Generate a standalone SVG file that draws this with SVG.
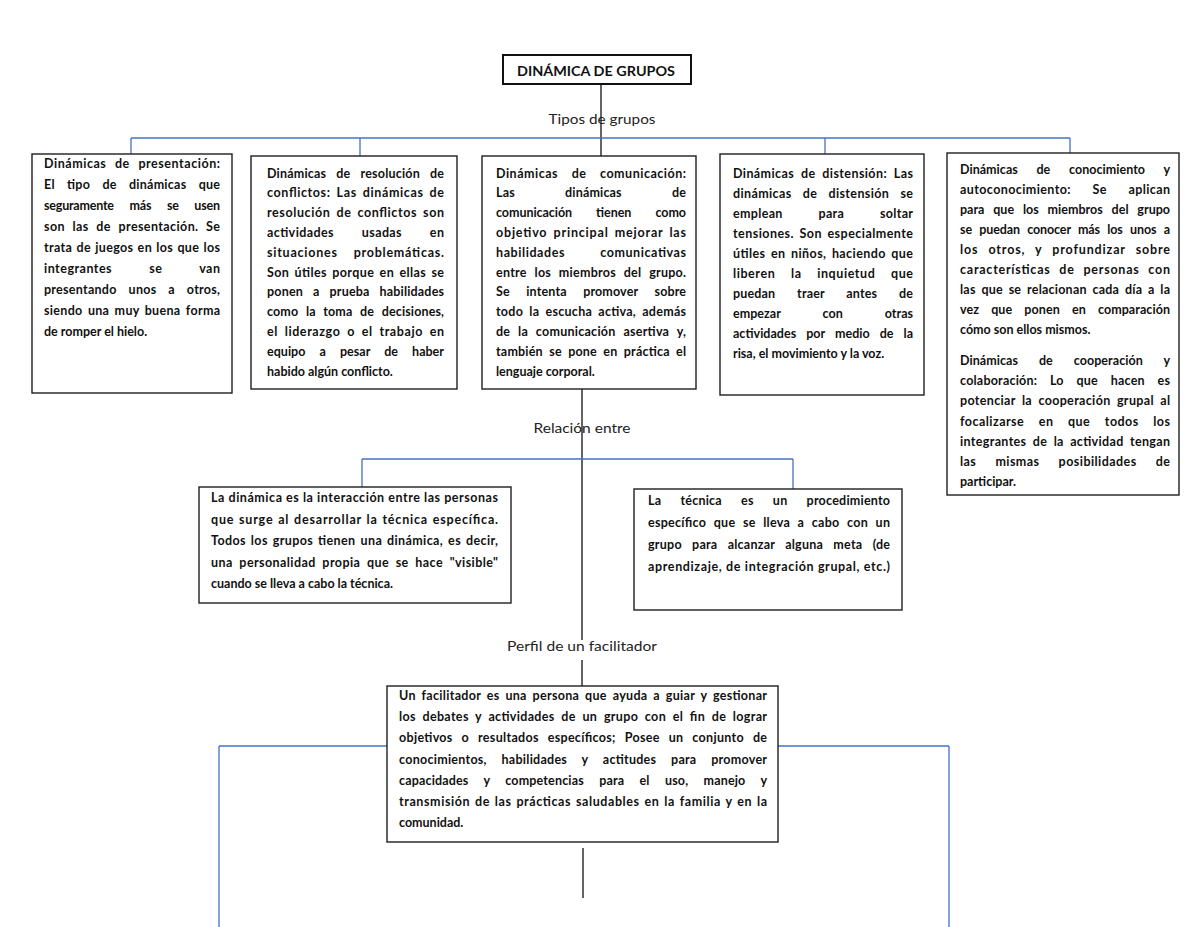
<svg xmlns="http://www.w3.org/2000/svg" width="1200" height="927" viewBox="0 0 1200 927">
<style>
.bg{fill:#ffffff}
.box{fill:#ffffff;stroke:#1e1e1e;stroke-width:1.4}
.title{fill:#ffffff;stroke:#111111;stroke-width:2}
.blue{stroke:#4472C4;stroke-width:1.3;fill:none}
.blk{stroke:#111111;stroke-width:1.3;fill:none}
.t{font-family:Lato,"Liberation Sans",sans-serif;font-weight:bold;font-size:12.5px;fill:#111111}
.tt{font-family:Lato,"Liberation Sans",sans-serif;font-weight:bold;font-size:13px;fill:#111111}
.lbl{font-family:Lato,"Liberation Sans",sans-serif;font-size:14px;fill:#222222}
.m{text-anchor:middle}
</style>
<rect class="bg" x="0" y="0" width="1200" height="927"/>

<g id="connectors">
  <line class="blk" x1="601" y1="84" x2="601" y2="156"/>
  <line class="blue" x1="131" y1="138" x2="1070" y2="138"/>
  <line class="blue" x1="131" y1="138" x2="131" y2="154"/>
  <line class="blue" x1="360" y1="138" x2="360" y2="156"/>
  <line class="blue" x1="825" y1="138" x2="825" y2="154"/>
  <line class="blue" x1="1070" y1="138" x2="1070" y2="153"/>
  <line class="blk" x1="582" y1="389" x2="582" y2="640"/>
  <line class="blk" x1="582" y1="660" x2="582" y2="686"/>
  <line class="blue" x1="362" y1="459" x2="793" y2="459"/>
  <line class="blue" x1="362" y1="459" x2="362" y2="487"/>
  <line class="blue" x1="793" y1="459" x2="793" y2="489"/>
  <line class="blue" x1="219" y1="746" x2="949" y2="746"/>
  <line class="blue" x1="219" y1="746" x2="219" y2="927"/>
  <line class="blue" x1="949" y1="746" x2="949" y2="927"/>
  <line class="blk" x1="583" y1="848" x2="583" y2="898"/>
</g>

<g id="labels">
  <text class="lbl m" x="602" y="124" textLength="107" lengthAdjust="spacingAndGlyphs">Tipos de grupos</text>
  <text class="lbl m" x="582" y="433" textLength="97" lengthAdjust="spacingAndGlyphs">Relación entre</text>
  <text class="lbl m" x="582" y="651" textLength="150" lengthAdjust="spacingAndGlyphs">Perfil de un facilitador</text>
</g>

<g id="node-title">
  <rect class="title" x="503" y="55" width="188" height="29"/>
  <text class="tt m" x="596" y="76" textLength="158" lengthAdjust="spacingAndGlyphs">DINÁMICA DE GRUPOS</text>
</g>

<g id="node-presentacion">
  <rect class="box" x="32" y="154" width="200" height="239"/>
  <text class="t" x="44" y="168" textLength="176" word-spacing="5">Dinámicas de presentación:</text>
  <text class="t" x="44" y="189" textLength="176" word-spacing="9">El tipo de dinámicas que</text>
  <text class="t" x="44" y="210" textLength="176" word-spacing="12.9">seguramente más se usen</text>
  <text class="t" x="44" y="231" textLength="176" word-spacing="4.2">son las de presentación. Se</text>
  <text class="t" x="44" y="252" textLength="176" word-spacing="0.9">trata de juegos en los que los</text>
  <text class="t" x="44" y="273" textLength="176" word-spacing="33.6">integrantes se van</text>
  <text class="t" x="44" y="294" textLength="176" word-spacing="8.6">presentando unos a otros,</text>
  <text class="t" x="44" y="315" textLength="176" word-spacing="2">siendo una muy buena forma</text>
  <text class="t" x="44" y="336">de romper el hielo.</text>
</g>

<g id="node-resolucion">
  <rect class="box" x="251" y="156" width="206" height="233"/>
  <text class="t" x="267" y="177.5" textLength="177" word-spacing="6.8">Dinámicas de resolución de</text>
  <text class="t" x="267" y="197.3" textLength="177" word-spacing="2.4">conflictos: Las dinámicas de</text>
  <text class="t" x="267" y="217.1" textLength="177" word-spacing="2.4">resolución de conflictos son</text>
  <text class="t" x="267" y="236.9" textLength="177" word-spacing="24.4">actividades usadas en</text>
  <text class="t" x="267" y="256.7" textLength="177" word-spacing="12.1">situaciones problemáticas.</text>
  <text class="t" x="267" y="276.5" textLength="177" word-spacing="1.8">Son útiles porque en ellas se</text>
  <text class="t" x="267" y="296.3" textLength="177" word-spacing="6.8">ponen a prueba habilidades</text>
  <text class="t" x="267" y="316.1" textLength="177" word-spacing="4.5">como la toma de decisiones,</text>
  <text class="t" x="267" y="335.9" textLength="177" word-spacing="3.1">el liderazgo o el trabajo en</text>
  <text class="t" x="267" y="355.7" textLength="177" word-spacing="11">equipo a pesar de haber</text>
  <text class="t" x="267" y="375.5">habido algún conflicto.</text>
</g>

<g id="node-comunicacion">
  <rect class="box" x="482" y="156" width="214" height="233"/>
  <text class="t" x="496" y="177.5" textLength="190" word-spacing="10">Dinámicas de comunicación:</text>
  <text class="t" x="496" y="197.3" textLength="190" word-spacing="47.1">Las dinámicas de</text>
  <text class="t" x="496" y="217.1" textLength="190" word-spacing="21.1">comunicación tienen como</text>
  <text class="t" x="496" y="236.9" textLength="190" word-spacing="2.4">objetivo principal mejorar las</text>
  <text class="t" x="496" y="256.7" textLength="190" word-spacing="31.6">habilidades comunicativas</text>
  <text class="t" x="496" y="276.5" textLength="190" word-spacing="4.5">entre los miembros del grupo.</text>
  <text class="t" x="496" y="296.3" textLength="190" word-spacing="13.3">Se intenta promover sobre</text>
  <text class="t" x="496" y="316.1" textLength="190" word-spacing="2.9">todo la escucha activa, además</text>
  <text class="t" x="496" y="335.9" textLength="190" word-spacing="4.5">de la comunicación asertiva y,</text>
  <text class="t" x="496" y="355.7" textLength="190" word-spacing="3.1">también se pone en práctica el</text>
  <text class="t" x="496" y="375.5">lenguaje corporal.</text>
</g>

<g id="node-distension">
  <rect class="box" x="720" y="154" width="204" height="241"/>
  <text class="t" x="733" y="177.5" textLength="180" word-spacing="3.4">Dinámicas de distensión: Las</text>
  <text class="t" x="733" y="197.5" textLength="180" word-spacing="7.8">dinámicas de distensión se</text>
  <text class="t" x="733" y="217.5" textLength="180" word-spacing="32.4">emplean para soltar</text>
  <text class="t" x="733" y="237.5" textLength="180" word-spacing="2">tensiones. Son especialmente</text>
  <text class="t" x="733" y="257.5" textLength="180" word-spacing="2">útiles en niños, haciendo que</text>
  <text class="t" x="733" y="277.5" textLength="180" word-spacing="12.1">liberen la inquietud que</text>
  <text class="t" x="733" y="297.5" textLength="180" word-spacing="18.6">puedan traer antes de</text>
  <text class="t" x="733" y="317.5" textLength="180" word-spacing="38.9">empezar con otras</text>
  <text class="t" x="733" y="337.5" textLength="180" word-spacing="6.9">actividades por medio de la</text>
  <text class="t" x="733" y="357.5">risa, el movimiento y la voz.</text>
</g>

<g id="node-conocimiento">
  <rect class="box" x="947" y="153" width="232" height="342"/>
  <text class="t" x="960" y="174" textLength="210" word-spacing="15.6">Dinámicas de conocimiento y</text>
  <text class="t" x="960" y="194" textLength="210" word-spacing="18.1">autoconocimiento: Se aplican</text>
  <text class="t" x="960" y="214" textLength="210" word-spacing="5.8">para que los miembros del grupo</text>
  <text class="t" x="960" y="234" textLength="210" word-spacing="4.4">se puedan conocer más los unos a</text>
  <text class="t" x="960" y="254" textLength="210" word-spacing="6.2">los otros, y profundizar sobre</text>
  <text class="t" x="960" y="274" textLength="210" word-spacing="5">características de personas con</text>
  <text class="t" x="960" y="294" textLength="210" word-spacing="2.5">las que se relacionan cada día a la</text>
  <text class="t" x="960" y="314" textLength="210" word-spacing="9">vez que ponen en comparación</text>
  <text class="t" x="960" y="334">cómo son ellos mismos.</text>
  <text class="t" x="960" y="365" textLength="210" word-spacing="17.8">Dinámicas de cooperación y</text>
  <text class="t" x="960" y="385.2" textLength="210" word-spacing="9.5">colaboración: Lo que hacen es</text>
  <text class="t" x="960" y="405.4" textLength="210" word-spacing="3">potenciar la cooperación grupal al</text>
  <text class="t" x="960" y="425.6" textLength="210" word-spacing="11.1">focalizarse en que todos los</text>
  <text class="t" x="960" y="445.8" textLength="210" word-spacing="3">integrantes de la actividad tengan</text>
  <text class="t" x="960" y="466" textLength="210" word-spacing="15.6">las mismas posibilidades de</text>
  <text class="t" x="960" y="486.2">participar.</text>
</g>

<g id="node-dinamica">
  <rect class="box" x="199" y="487" width="312" height="116"/>
  <text class="t" x="211" y="502" textLength="287">La dinámica es la interacción entre las personas</text>
  <text class="t" x="211" y="523.5" textLength="287" word-spacing="1">que surge al desarrollar la técnica específica.</text>
  <text class="t" x="211" y="545" textLength="287" word-spacing="1.5">Todos los grupos tienen una dinámica, es decir,</text>
  <text class="t" x="211" y="566.5" textLength="287" word-spacing="3.2">una personalidad propia que se hace "visible"</text>
  <text class="t" x="211" y="588">cuando se lleva a cabo la técnica.</text>
</g>

<g id="node-tecnica">
  <rect class="box" x="634" y="489" width="268" height="121"/>
  <text class="t" x="648" y="505" textLength="242" word-spacing="15.9">La técnica es un procedimiento</text>
  <text class="t" x="648" y="527" textLength="242" word-spacing="4.3">específico que se lleva a cabo con un</text>
  <text class="t" x="648" y="549" textLength="242" word-spacing="7">grupo para alcanzar alguna meta (de</text>
  <text class="t" x="648" y="571" textLength="242">aprendizaje, de integración grupal, etc.)</text>
</g>

<g id="node-facilitador">
  <rect class="box" x="387" y="686" width="391" height="156"/>
  <text class="t" x="399" y="700" textLength="368" word-spacing="2.5">Un facilitador es una persona que ayuda a guiar y gestionar</text>
  <text class="t" x="399" y="721.2" textLength="368" word-spacing="3.3">los debates y actividades de un grupo con el fin de lograr</text>
  <text class="t" x="399" y="742.4" textLength="368" word-spacing="5.6">objetivos o resultados específicos; Posee un conjunto de</text>
  <text class="t" x="399" y="763.6" textLength="368" word-spacing="11.4">conocimientos, habilidades y actitudes para promover</text>
  <text class="t" x="399" y="784.8" textLength="368" word-spacing="12.1">capacidades y competencias para el uso, manejo y</text>
  <text class="t" x="399" y="806" textLength="368" word-spacing="1.2">transmisión de las prácticas saludables en la familia y en la</text>
  <text class="t" x="399" y="827.2">comunidad.</text>
</g>
</svg>
